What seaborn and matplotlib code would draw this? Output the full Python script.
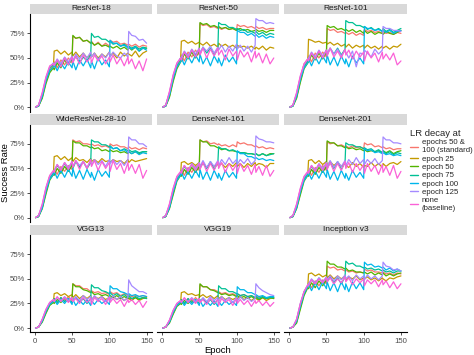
import numpy as np
import pandas as pd
import seaborn as sns
import matplotlib.pyplot as plt
from matplotlib.patches import Rectangle
from matplotlib.lines import Line2D

EPOCHS = [1, 5, 10, 15, 20, 25,
          26, 30, 35, 40, 45, 50,
          51, 55, 60, 65, 70, 75,
          76, 80, 85, 90, 95, 100,
          101, 105, 110, 115, 120, 125,
          126, 130, 135, 140, 145, 150]

SCHEDULES = ['epochs 50 &\n100 (standard)', 'epoch 25', 'epoch 50', 'epoch 75',
             'epoch 100', 'epoch 125', 'none\n(baseline)']
COLORS = ['#F8766D', '#C49A00', '#53B400', '#00C094', '#00B6EB', '#A58AFF', '#FB61D7']

MODELS = ['ResNet-18', 'ResNet-50', 'ResNet-101',
          'WideResNet-28-10', 'DenseNet-161', 'DenseNet-201',
          'VGG13', 'VGG19', 'Inception v3']

# success rate in %, one list per schedule (same order as SCHEDULES)
RESNET18 = [
    [0, 2, 13, 29, 39, 43, 46, 40, 48, 43, 50, 45, 72, 70, 71, 67, 68, 65, 67, 63, 66, 62, 65, 62, 68, 66, 67, 64, 65, 63, 64, 62, 64, 61, 63, 62],
    [0, 1, 10, 26, 37, 42, 57, 58, 54, 57, 53, 56, 52, 56, 51, 55, 50, 54, 51, 55, 50, 54, 51, 56, 52, 55, 50, 56, 52, 55, 54, 52, 57, 51, 55, 57],
    [0, 1, 9, 24, 35, 40, 38, 45, 40, 48, 43, 49, 73, 70, 71, 67, 68, 65, 66, 63, 65, 62, 63, 61, 62, 60, 62, 59, 61, 58, 61, 58, 61, 57, 60, 60],
    [0, 2, 12, 28, 40, 44, 41, 47, 43, 50, 44, 49, 46, 52, 45, 51, 47, 53, 75, 71, 72, 69, 69, 66, 67, 64, 65, 62, 64, 61, 62, 60, 62, 59, 61, 60],
    [0, 1, 11, 27, 37, 41, 44, 37, 45, 39, 46, 40, 47, 38, 48, 42, 49, 40, 47, 39, 50, 43, 48, 41, 68, 65, 65, 62, 63, 60, 61, 59, 61, 57, 60, 58],
    [0, 2, 14, 30, 41, 45, 43, 49, 44, 51, 46, 52, 47, 54, 49, 55, 50, 56, 51, 55, 48, 54, 50, 56, 51, 56, 52, 50, 55, 51, 77, 73, 72, 68, 69, 65],
    [0, 2, 15, 31, 42, 44, 42, 48, 41, 50, 43, 51, 45, 52, 44, 53, 46, 51, 45, 53, 47, 52, 44, 51, 46, 53, 44, 50, 42, 51, 44, 49, 39, 47, 37, 49],
]
RESNET50 = [
    [0, 2, 14, 31, 44, 49, 53, 47, 56, 51, 58, 53, 85, 83, 84, 81, 82, 80, 81, 79, 81, 79, 80, 78, 84, 82, 83, 81, 82, 80, 82, 80, 81, 79, 80, 80],
    [0, 1, 11, 28, 42, 48, 67, 68, 65, 67, 64, 66, 65, 63, 66, 62, 64, 61, 65, 62, 64, 61, 63, 60, 63, 61, 62, 60, 62, 59, 61, 59, 62, 58, 61, 60],
    [0, 1, 10, 26, 39, 46, 47, 54, 49, 56, 50, 57, 86, 84, 85, 82, 83, 81, 82, 80, 81, 79, 80, 78, 79, 80, 78, 79, 77, 78, 79, 77, 78, 76, 78, 78],
    [0, 2, 13, 30, 43, 50, 50, 56, 51, 58, 53, 59, 54, 61, 55, 60, 53, 59, 86, 84, 84, 81, 81, 79, 80, 78, 79, 76, 77, 75, 77, 74, 76, 73, 75, 74],
    [0, 1, 12, 29, 41, 46, 50, 43, 52, 45, 53, 46, 54, 44, 51, 42, 52, 45, 50, 42, 53, 46, 51, 44, 78, 76, 76, 73, 75, 72, 74, 71, 73, 70, 72, 71],
    [0, 2, 15, 32, 44, 50, 51, 57, 52, 59, 54, 60, 55, 61, 57, 62, 55, 61, 58, 63, 56, 62, 57, 64, 59, 63, 57, 62, 56, 63, 90, 88, 88, 85, 86, 85],
    [0, 2, 16, 33, 45, 50, 48, 56, 50, 58, 51, 59, 53, 60, 50, 59, 52, 60, 53, 58, 48, 59, 52, 57, 48, 58, 51, 56, 46, 57, 50, 55, 45, 54, 44, 50],
]
RESNET101 = [
    [0, 2, 13, 30, 44, 49, 52, 46, 55, 50, 56, 51, 80, 78, 79, 76, 77, 75, 76, 74, 76, 73, 75, 73, 79, 77, 78, 76, 77, 75, 77, 75, 76, 74, 76, 75],
    [0, 1, 10, 27, 41, 47, 69, 68, 66, 67, 65, 66, 64, 66, 63, 65, 62, 64, 61, 64, 60, 63, 61, 63, 60, 63, 60, 62, 59, 62, 60, 62, 59, 62, 61, 64],
    [0, 1, 9, 25, 39, 45, 46, 53, 48, 55, 49, 56, 83, 81, 82, 79, 80, 78, 79, 77, 79, 76, 78, 75, 78, 75, 77, 74, 76, 75, 74, 77, 75, 74, 76, 78],
    [0, 2, 12, 29, 42, 48, 49, 55, 50, 57, 51, 58, 53, 60, 54, 60, 53, 59, 88, 86, 86, 83, 83, 81, 82, 79, 81, 78, 80, 77, 80, 77, 79, 76, 78, 80],
    [0, 1, 11, 28, 40, 45, 49, 42, 51, 44, 52, 45, 53, 43, 51, 42, 52, 44, 49, 41, 52, 45, 50, 44, 82, 80, 80, 78, 79, 77, 78, 76, 78, 75, 77, 78],
    [0, 2, 14, 31, 43, 49, 50, 56, 51, 58, 52, 58, 55, 60, 54, 59, 52, 58, 56, 50, 57, 41, 55, 54, 58, 55, 51, 59, 54, 58, 82, 80, 80, 78, 78, 77],
    [0, 2, 15, 32, 44, 49, 47, 55, 49, 57, 50, 58, 52, 60, 51, 57, 50, 59, 53, 58, 49, 57, 51, 56, 47, 57, 50, 55, 46, 56, 49, 54, 48, 55, 43, 47],
]
WRN28 = [
    [0, 2, 12, 29, 42, 46, 49, 44, 52, 47, 53, 49, 79, 77, 78, 75, 75, 74, 75, 73, 74, 72, 73, 71, 75, 73, 74, 72, 72, 70, 72, 70, 71, 69, 71, 70],
    [0, 1, 10, 26, 40, 45, 62, 63, 59, 62, 58, 61, 57, 61, 58, 59, 56, 60, 57, 59, 56, 60, 57, 58, 56, 59, 57, 58, 55, 59, 56, 59, 57, 58, 59, 60],
    [0, 1, 9, 24, 38, 44, 43, 50, 45, 52, 47, 53, 78, 76, 76, 73, 73, 71, 72, 70, 71, 68, 69, 67, 69, 67, 68, 66, 67, 65, 67, 65, 67, 65, 67, 67],
    [0, 2, 11, 28, 41, 46, 47, 53, 48, 55, 49, 56, 50, 57, 51, 57, 50, 56, 79, 77, 77, 74, 74, 72, 73, 70, 71, 68, 70, 68, 69, 67, 68, 66, 67, 67],
    [0, 1, 10, 27, 39, 44, 47, 40, 48, 41, 49, 42, 50, 40, 48, 39, 49, 41, 46, 38, 49, 42, 47, 41, 72, 70, 71, 68, 69, 66, 67, 65, 67, 64, 66, 65],
    [0, 2, 13, 30, 42, 47, 48, 54, 49, 56, 51, 57, 52, 58, 53, 57, 51, 58, 53, 59, 54, 58, 52, 59, 55, 59, 54, 58, 53, 59, 82, 79, 79, 75, 75, 72],
    [0, 2, 14, 31, 43, 48, 46, 54, 48, 56, 49, 57, 51, 58, 49, 57, 50, 59, 52, 58, 48, 57, 50, 56, 47, 58, 49, 55, 45, 56, 48, 54, 45, 54, 40, 48],
]
DENSENET161 = [
    [0, 2, 12, 28, 41, 45, 48, 43, 51, 46, 53, 48, 79, 77, 78, 75, 76, 74, 75, 73, 74, 72, 74, 72, 77, 75, 76, 74, 74, 72, 73, 71, 72, 70, 71, 70],
    [0, 1, 10, 25, 39, 44, 56, 57, 54, 56, 53, 56, 52, 55, 51, 55, 52, 54, 53, 55, 51, 55, 52, 56, 52, 55, 51, 55, 52, 56, 53, 55, 54, 51, 55, 55],
    [0, 1, 9, 23, 37, 43, 42, 49, 44, 51, 46, 52, 79, 77, 77, 73, 73, 71, 71, 69, 70, 68, 68, 67, 67, 66, 66, 65, 65, 64, 65, 63, 65, 63, 65, 65],
    [0, 2, 11, 27, 40, 45, 46, 52, 47, 54, 48, 55, 50, 56, 50, 57, 49, 56, 72, 70, 70, 68, 69, 67, 67, 66, 66, 65, 65, 64, 65, 63, 65, 63, 64, 65],
    [0, 1, 10, 26, 38, 43, 46, 39, 47, 40, 48, 41, 49, 39, 47, 38, 48, 40, 45, 38, 48, 41, 46, 40, 68, 65, 65, 62, 62, 60, 61, 59, 60, 58, 59, 58],
    [0, 2, 13, 29, 41, 46, 47, 53, 48, 55, 50, 56, 52, 58, 51, 57, 52, 58, 53, 59, 54, 61, 55, 59, 54, 59, 55, 60, 54, 58, 83, 80, 79, 77, 77, 76],
    [0, 2, 14, 30, 42, 47, 45, 53, 47, 54, 48, 55, 49, 56, 47, 55, 48, 57, 50, 56, 46, 55, 48, 54, 45, 55, 47, 53, 44, 54, 46, 52, 43, 53, 42, 48],
]
DENSENET201 = [
    [0, 2, 12, 28, 41, 45, 48, 43, 51, 46, 53, 48, 77, 75, 76, 73, 74, 72, 73, 71, 73, 71, 72, 70, 76, 74, 75, 72, 73, 71, 72, 70, 71, 69, 70, 70],
    [0, 1, 10, 25, 39, 44, 58, 59, 55, 58, 54, 57, 53, 57, 53, 56, 52, 56, 53, 51, 56, 52, 55, 51, 53, 52, 56, 52, 55, 51, 55, 52, 55, 56, 54, 57],
    [0, 1, 9, 23, 37, 43, 42, 49, 44, 51, 46, 52, 78, 76, 76, 73, 73, 71, 72, 70, 71, 69, 70, 68, 69, 67, 68, 67, 68, 66, 68, 66, 68, 65, 67, 68],
    [0, 2, 11, 27, 40, 45, 46, 52, 47, 54, 48, 55, 50, 56, 50, 57, 49, 56, 76, 74, 74, 72, 72, 70, 71, 69, 70, 67, 69, 66, 68, 65, 67, 64, 66, 65],
    [0, 1, 10, 26, 38, 43, 46, 39, 47, 40, 48, 41, 49, 39, 47, 38, 48, 40, 45, 38, 48, 41, 46, 40, 70, 68, 69, 66, 67, 65, 66, 64, 65, 63, 64, 63],
    [0, 2, 13, 29, 41, 46, 47, 53, 48, 55, 50, 56, 52, 58, 51, 57, 52, 58, 53, 59, 54, 61, 55, 59, 54, 59, 55, 60, 54, 58, 82, 79, 79, 76, 76, 75],
    [0, 2, 14, 30, 42, 47, 45, 53, 47, 54, 48, 55, 49, 56, 47, 55, 48, 57, 50, 56, 46, 55, 48, 54, 45, 55, 47, 53, 44, 54, 46, 52, 43, 53, 40, 47],
]
VGG13 = [
    [0, 1, 8, 18, 25, 28, 30, 26, 31, 27, 32, 28, 45, 43, 43, 40, 40, 37, 38, 36, 37, 35, 36, 34, 37, 35, 36, 33, 35, 33, 34, 32, 33, 32, 33, 32],
    [0, 1, 7, 16, 24, 27, 35, 36, 33, 35, 32, 34, 31, 34, 30, 33, 30, 33, 29, 32, 30, 32, 29, 31, 30, 32, 29, 31, 28, 31, 30, 28, 31, 28, 30, 31],
    [0, 1, 6, 15, 23, 26, 25, 29, 26, 30, 27, 31, 45, 42, 42, 39, 38, 36, 37, 34, 35, 33, 34, 32, 33, 31, 33, 30, 32, 30, 31, 29, 31, 29, 31, 30],
    [0, 1, 8, 17, 25, 28, 30, 26, 31, 27, 30, 26, 29, 31, 26, 30, 25, 30, 44, 41, 41, 38, 37, 35, 36, 33, 35, 32, 34, 31, 33, 30, 32, 30, 31, 30],
    [0, 1, 7, 17, 24, 27, 29, 24, 29, 25, 30, 24, 29, 23, 28, 24, 29, 23, 28, 24, 29, 25, 28, 24, 43, 40, 40, 37, 36, 34, 35, 33, 34, 32, 33, 32],
    [0, 1, 9, 19, 26, 29, 27, 31, 28, 32, 28, 31, 27, 32, 28, 33, 29, 32, 28, 33, 29, 32, 27, 32, 28, 33, 29, 32, 28, 31, 49, 43, 40, 37, 37, 35],
    [0, 1, 9, 19, 26, 29, 27, 32, 27, 31, 26, 31, 27, 30, 25, 31, 26, 30, 24, 31, 27, 30, 24, 31, 26, 30, 25, 29, 22, 29, 26, 29, 24, 28, 21, 27],
]
VGG19 = [
    [0, 1, 7, 16, 24, 27, 29, 25, 30, 26, 31, 27, 44, 42, 42, 39, 39, 37, 37, 35, 36, 34, 35, 33, 35, 33, 34, 32, 33, 31, 33, 31, 32, 30, 31, 30],
    [0, 1, 6, 15, 23, 26, 36, 37, 34, 35, 33, 34, 32, 34, 31, 33, 30, 33, 30, 32, 29, 31, 29, 31, 30, 32, 29, 31, 28, 31, 30, 28, 31, 28, 30, 31],
    [0, 1, 5, 14, 22, 25, 24, 28, 25, 29, 26, 30, 45, 42, 42, 39, 38, 36, 36, 34, 35, 33, 34, 32, 33, 31, 32, 30, 32, 30, 31, 29, 31, 30, 31, 30],
    [0, 1, 7, 16, 24, 27, 29, 25, 30, 26, 29, 25, 28, 30, 25, 29, 24, 29, 43, 40, 40, 37, 37, 35, 35, 33, 34, 32, 33, 31, 32, 30, 32, 30, 31, 31],
    [0, 1, 6, 16, 23, 26, 28, 23, 28, 24, 29, 23, 28, 22, 27, 23, 28, 22, 27, 23, 28, 24, 27, 23, 42, 39, 39, 36, 36, 34, 34, 32, 33, 31, 32, 32],
    [0, 1, 8, 18, 25, 28, 26, 30, 27, 31, 27, 30, 26, 31, 27, 32, 28, 31, 27, 32, 28, 31, 26, 31, 27, 32, 28, 31, 27, 30, 45, 41, 38, 36, 34, 33],
    [0, 1, 8, 18, 25, 28, 26, 31, 26, 30, 25, 30, 26, 29, 24, 30, 25, 29, 23, 30, 26, 29, 23, 30, 25, 29, 24, 28, 22, 28, 25, 28, 23, 27, 22, 26],
]
INCEPTION = [
    [0, 1, 8, 24, 37, 43, 46, 41, 48, 43, 49, 45, 63, 61, 62, 59, 60, 58, 59, 57, 58, 56, 57, 56, 60, 58, 59, 57, 57, 56, 57, 55, 56, 54, 56, 55],
    [0, 1, 6, 21, 35, 42, 55, 56, 53, 55, 52, 54, 51, 54, 50, 53, 50, 53, 49, 52, 50, 53, 49, 51, 50, 52, 49, 51, 48, 51, 50, 48, 51, 50, 52, 53],
    [0, 1, 5, 19, 33, 41, 40, 46, 41, 48, 43, 49, 68, 65, 65, 62, 62, 60, 61, 58, 59, 57, 57, 56, 57, 55, 57, 54, 56, 54, 56, 53, 55, 53, 55, 56],
    [0, 1, 7, 23, 36, 43, 44, 49, 45, 51, 46, 51, 47, 52, 46, 51, 45, 52, 68, 65, 66, 63, 63, 61, 62, 60, 61, 59, 60, 58, 59, 57, 58, 56, 58, 58],
    [0, 1, 7, 22, 35, 42, 45, 38, 46, 39, 47, 40, 47, 38, 46, 37, 47, 39, 45, 37, 47, 40, 46, 39, 67, 64, 65, 62, 63, 61, 62, 59, 61, 58, 60, 58],
    [0, 1, 9, 25, 37, 44, 45, 50, 46, 51, 47, 52, 49, 53, 48, 53, 49, 54, 50, 53, 48, 54, 50, 53, 49, 54, 50, 53, 49, 53, 67, 63, 62, 59, 60, 58],
    [0, 1, 9, 25, 37, 44, 43, 49, 45, 50, 46, 51, 47, 51, 45, 50, 46, 52, 47, 51, 44, 50, 46, 50, 43, 49, 45, 49, 42, 49, 44, 48, 41, 47, 40, 45],
]
MODEL_DATA = [RESNET18, RESNET50, RESNET101, WRN28, DENSENET161, DENSENET201,
              VGG13, VGG19, INCEPTION]

rows = []
for model, runs in zip(MODELS, MODEL_DATA):
    for sched, vals in zip(SCHEDULES, runs):
        assert len(vals) == len(EPOCHS), (model, sched)
        for ep, v in zip(EPOCHS, vals):
            rows.append((model, sched, ep, v / 100))
df = pd.DataFrame(rows, columns=['model', 'schedule', 'epoch', 'rate'])

sns.set_style('white')
plt.rcParams['font.family'] = ['Liberation Sans', 'DejaVu Sans']

fig, axes = plt.subplots(3, 3, figsize=(4.74, 3.55), dpi=100)
fig.subplots_adjust(left=0.0633, right=0.8576, top=0.960, bottom=0.0634,
                    wspace=0.041, hspace=0.134)

for i, (ax, model) in enumerate(zip(axes.flat, MODELS)):
    r, c = divmod(i, 3)
    sub = df[df['model'] == model]
    sns.lineplot(data=sub, x='epoch', y='rate', hue='schedule', hue_order=SCHEDULES,
                 palette=COLORS, estimator=None, linewidth=0.9, legend=False, ax=ax)
    ax.set_xlim(-6.45, 157.45)
    ax.set_ylim(-0.045, 0.945)
    ax.set_xticks([0, 50, 100, 150])
    ax.set_yticks([0, 0.25, 0.5, 0.75])
    ax.set_yticklabels(['0%', '25%', '50%', '75%'])
    ax.set_xlabel('')
    ax.set_ylabel('')
    for s in ax.spines.values():
        s.set_visible(False)
    ax.tick_params(axis='both', labelsize=5.6, labelcolor='#4D4D4D', length=2.5,
                   width=0.6, pad=1.2, color='#333333')
    if c == 0:
        ax.spines['left'].set_visible(True)
        ax.spines['left'].set_linewidth(0.8)
        ax.spines['left'].set_color('black')
        ax.tick_params(axis='y', left=True, labelleft=True)
    else:
        ax.tick_params(axis='y', left=False, labelleft=False)
    if r == 2:
        ax.spines['bottom'].set_visible(True)
        ax.spines['bottom'].set_linewidth(0.8)
        ax.spines['bottom'].set_color('black')
        ax.tick_params(axis='x', bottom=True, labelbottom=True)
    else:
        ax.tick_params(axis='x', bottom=False, labelbottom=False)

    # gray facet strip
    ax.add_patch(Rectangle((0, 1.0), 1, 0.108, transform=ax.transAxes,
                           facecolor='#D9D9D9', edgecolor='none', clip_on=False))
    ax.text(0.5, 1.054, model, transform=ax.transAxes, ha='center', va='center',
            fontsize=6, color='#1A1A1A')

fig.text(0.012, 0.513, 'Success Rate', rotation=90, ha='center', va='center',
         fontsize=6.8, color='black')
fig.text(0.46, 0.014, 'Epoch', ha='center', va='center', fontsize=6.8, color='black')

handles = [Line2D([], [], color=col, linewidth=1.0) for col in COLORS]
leg = fig.legend(handles, SCHEDULES, loc='upper left', bbox_to_anchor=(0.862, 0.64),
                 frameon=False, title='LR decay at', fontsize=5.6, title_fontsize=6.8,
                 handlelength=1.0, handletextpad=0.5, labelspacing=0.12,
                 borderaxespad=0, borderpad=0.2)
leg._legend_box.align = 'left'

plt.savefig('out.png', dpi=100)
